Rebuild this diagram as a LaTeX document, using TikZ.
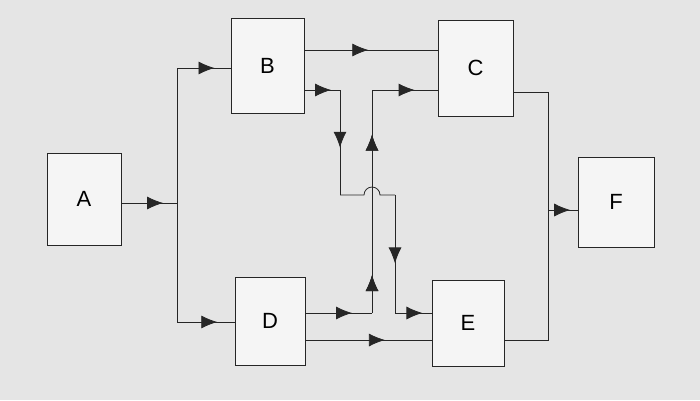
\documentclass[tikz,border=0pt]{standalone}
\usepackage{fontspec}
\setmainfont{Liberation Sans}
\usetikzlibrary{arrows.meta,decorations.markings}
\begin{document}
\begin{tikzpicture}[x=1pt,y=-1pt,
  box/.style={draw=black!85,fill=black!4,line width=0.8pt,minimum width=#1,inner sep=0pt,font=\fontsize{22}{26}\selectfont},
  ln/.style={draw=black!85,line width=0.8pt},
  ma/.style={postaction={decorate},decoration={markings,mark=at position #1 with {\arrow{Latex[length=16pt,width=13pt]}}}}]
\fill[black!10] (0,0) rectangle (700,400);
\node[box=74pt,minimum height=92pt] (A) at (84,199) {A};
\node[box=73pt,minimum height=95pt] (B) at (267.5,65.5) {B};
\node[box=75pt,minimum height=96pt] (C) at (475.5,68) {C};
\node[box=70pt,minimum height=88pt] (D) at (270,321) {D};
\node[box=72pt,minimum height=86pt] (E) at (468,323) {E};
\node[box=76pt,minimum height=90pt] (F) at (616,202) {F};
\coordinate (j) at (177,203);
\coordinate (jt) at (177,68);
\coordinate (jb) at (177,322);
\draw[ln,ma=0.75] (A.east|-j) -- (j);
\draw[ln] (jt) -- (jb);
\draw[ln,ma=0.7] (jt) -- (B.west|-jt);
\draw[ln,ma=0.7] (jb) -- (D.west|-jb);
\coordinate (bc) at (304,50);
\draw[ln,ma=0.48] (B.east|-bc) -- (C.west|-bc);
% B -> E path
\coordinate (b1) at (340,90);
\coordinate (b2) at (340,195);
\coordinate (h1) at (364,195);
\coordinate (b3) at (395,195);
\coordinate (b4) at (395,313);
\draw[ln,ma=0.75] (B.east|-b1) -- (b1);
\draw[ln,ma=0.55] (b1) -- (b2);
\draw[ln] (b2) -- (h1) arc[start angle=180,end angle=360,radius=8] -- (b3);
\draw[ln,ma=0.58] (b3) -- (b4);
\draw[ln,ma=0.75] (b4) -- (E.west|-b4);
% D -> C path
\coordinate (d1) at (372,313);
\coordinate (d2) at (372,90);
\draw[ln,ma=0.7] (D.east|-d1) -- (d1);
\draw[ln,ma=0.17,ma=0.8] (d1) -- (d2);
\draw[ln,ma=0.65] (d2) -- (C.west|-d2);
\coordinate (de) at (305,340);
\draw[ln,ma=0.63] (D.east|-de) -- (E.west|-de);
% C,E -> F
\coordinate (c1) at (548,92);
\coordinate (e1) at (548,340);
\coordinate (f1) at (548,210);
\draw[ln] (C.east|-c1) -- (c1) -- (e1) -- (E.east|-e1);
\draw[ln,ma=0.75] (f1) -- (F.west|-f1);
\end{tikzpicture}
\end{document}
